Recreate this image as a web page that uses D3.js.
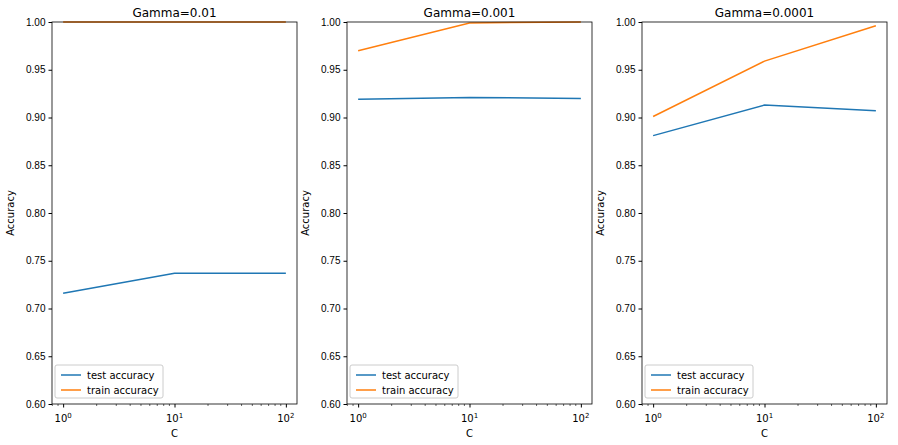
<!DOCTYPE html><html><head><meta charset="utf-8"><script src="https://d3js.org/d3.v7.min.js"></script>
<style>body{margin:0;background:#fff}svg{font-family:"DejaVu Sans",sans-serif}</style></head><body><svg width="898" height="445"></svg>
<script>
const Cvals=[1,10,100];
const titles=["Gamma=0.01","Gamma=0.001","Gamma=0.0001"];
const testAcc=[[0.716,0.737,0.737],[0.919,0.921,0.920],[0.881,0.913,0.907]];
const trainAcc=[[1.0,1.0,1.0],[0.970,0.999,1.0],[0.901,0.959,0.996]];
const yTicks=[0.60,0.65,0.70,0.75,0.80,0.85,0.90,0.95,1.00];
(function(){
const svg=d3.select("svg");
const lefts=[52,347,642],w=245,topY=22,bot=404;
const pad=0.1;
lefts.forEach((L,i)=>{
  const x=d3.scaleLog().domain([Math.pow(10,-pad),Math.pow(10,2+pad)]).range([L,L+w]);
  const y=d3.scaleLinear().domain([0.6,1.0]).range([bot,topY]);
  const g=svg.append("g");
  const line=d3.line().x((d,j)=>x(Cvals[j])).y(d=>y(d));
  g.append("path").attr("d",line(testAcc[i])).attr("fill","none").attr("stroke","#1f77b4").attr("stroke-width",1.5);
  g.append("path").attr("d",line(trainAcc[i])).attr("fill","none").attr("stroke","#ff7f0e").attr("stroke-width",1.5);
  const minor=[];for(let d=0;d<=3;d++)for(let k=2;k<=9;k++){const v=k*Math.pow(10,d-1);if(v>=x.domain()[0]&&v<=x.domain()[1])minor.push(v);}
  minor.forEach(v=>{
    g.append("line").attr("x1",x(v)).attr("x2",x(v)).attr("y1",bot).attr("y2",bot+2).attr("stroke","#000").attr("stroke-width",0.6);});
  const xa=g.append("g").attr("transform",`translate(0,${bot})`).call(d3.axisBottom(x).tickValues(Cvals).tickFormat(()=>"").tickSize(3.5));
  xa.select(".domain").remove();
  Cvals.forEach((v,j)=>{const t=g.append("text").attr("x",x(v)).attr("y",bot+18).attr("text-anchor","middle").attr("font-size",10);
    t.append("tspan").text("10");t.append("tspan").attr("dy",-4).attr("font-size",7).text(j);});
  const ya=g.append("g").attr("transform",`translate(${L},0)`).call(d3.axisLeft(y).tickValues(yTicks).tickFormat(d3.format(".2f")).tickSize(3.5));
  ya.select(".domain").remove();ya.selectAll("text").attr("font-size",10).attr("fill","#000");
  g.append("rect").attr("x",L).attr("y",topY).attr("width",w).attr("height",bot-topY).attr("fill","none").attr("stroke","#000").attr("stroke-width",0.8);
  g.append("text").attr("x",L+w/2).attr("y",topY-5).attr("text-anchor","middle").attr("font-size",12).text(titles[i]);
  g.append("text").attr("x",L+w/2).attr("y",bot+33).attr("text-anchor","middle").attr("font-size",10).text("C");
  g.append("text").attr("transform",`translate(${L-38},${(topY+bot)/2}) rotate(-90)`).attr("text-anchor","middle").attr("font-size",10).text("Accuracy");
  const lg=g.append("g").attr("transform",`translate(${L+3},365)`);
  lg.append("rect").attr("width",108).attr("height",33).attr("rx",2).attr("fill","#fff").attr("fill-opacity",0.8).attr("stroke","#ccc");
  [["test accuracy","#1f77b4"],["train accuracy","#ff7f0e"]].forEach(([t,c],k)=>{
    lg.append("line").attr("x1",6).attr("x2",26).attr("y1",10+k*15).attr("y2",10+k*15).attr("stroke",c).attr("stroke-width",1.5);
    lg.append("text").attr("x",32).attr("y",14+k*15).attr("font-size",10).text(t);});
});
})();
</script></body></html>
